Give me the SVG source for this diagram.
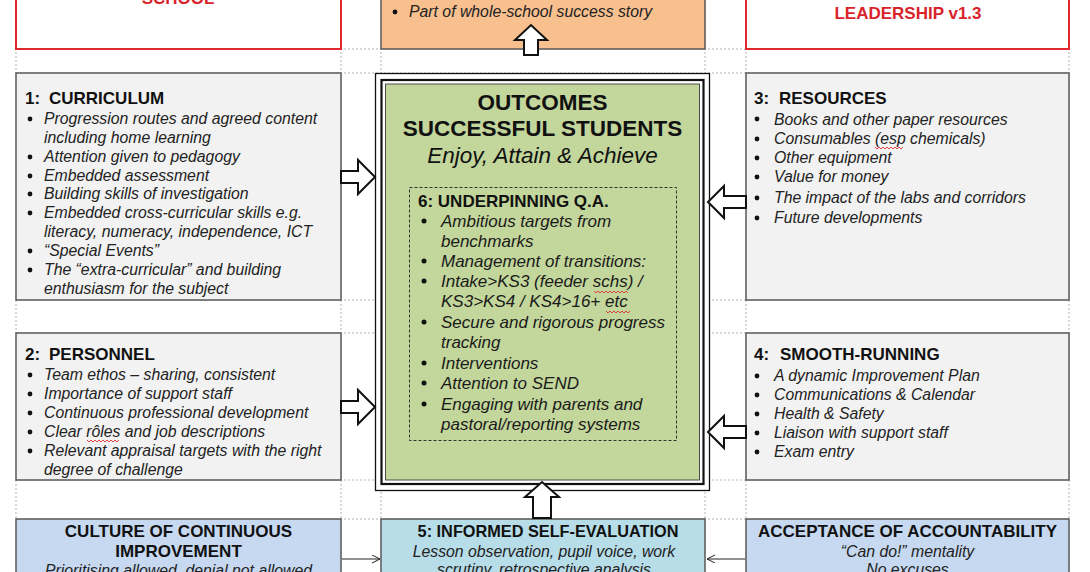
<svg xmlns="http://www.w3.org/2000/svg" width="1090" height="572" viewBox="0 0 1090 572">
<defs>
<style>
.grid{stroke:#b3b3b3;stroke-width:1;stroke-dasharray:2 2;fill:none}
.cell{fill:#f2f2f2;stroke:#595959;stroke-width:1.5}
.red{fill:#fff;stroke:#e0282e;stroke-width:2}
.rt{font-family:"Liberation Sans",Arial,sans-serif;font-weight:bold;font-size:17px;fill:#d9232a;text-anchor:middle}
.h{font-family:"Liberation Sans",Arial,sans-serif;font-weight:bold;font-size:17px;fill:#111}
.hc{font-family:"Liberation Sans",Arial,sans-serif;font-weight:bold;font-size:17px;fill:#111;text-anchor:middle}
.it{font-family:"Liberation Sans",Arial,sans-serif;font-style:italic;font-size:15.8px;fill:#222}
.itc{font-family:"Liberation Sans",Arial,sans-serif;font-style:italic;font-size:15.8px;fill:#222;text-anchor:middle}
.ic{font-family:"Liberation Sans",Arial,sans-serif;font-style:italic;font-size:17px;fill:#1a1a1a}
.big{font-family:"Liberation Sans",Arial,sans-serif;font-weight:bold;font-size:22.5px;fill:#111;text-anchor:middle}
.bigi{font-family:"Liberation Sans",Arial,sans-serif;font-style:italic;font-size:22.5px;fill:#111;text-anchor:middle}
.b{fill:#111}
.blk{fill:#fff;stroke:#111;stroke-width:2;stroke-linejoin:miter}
.thin{stroke:#222;stroke-width:1;fill:none}
.sq{stroke:#e03030;stroke-width:0.9;fill:none}
</style>
<marker id="open" markerWidth="10" markerHeight="10" refX="8" refY="4" orient="auto" markerUnits="userSpaceOnUse">
<path d="M0,0 L8,4 L0,8" fill="none" stroke="#222" stroke-width="1"/>
</marker>
</defs>
<rect width="1090" height="572" fill="#fff"/>
<g id="grid">
<path class="grid" d="M16,0V572M341,0V572M381,0V572M705,0V572M746,0V572M1069,0V572M16,49H1069M16,73H1069M16,300H1069M16,333H1069M16,480H1069M16,519H1069"/>
</g>
<g id="school">
<rect class="red" x="16" y="-10" width="325" height="59"/>
<text class="rt" x="178" y="4">SCHOOL</text>
</g>
<g id="success">
<rect x="381" y="-10" width="324" height="59" fill="#f9c08f" stroke="#595959" stroke-width="1.5"/>
<circle class="b" cx="395" cy="12" r="2.4"/>
<text class="it" x="409" y="17">Part of whole-school success story</text>
</g>
<g id="leadership">
<rect class="red" x="746" y="-10" width="323" height="59"/>
<text class="rt" x="908" y="19">LEADERSHIP v1.3</text>
</g>
<g id="curriculum">
<rect class="cell" x="16" y="73" width="325" height="227"/>
<text class="h" x="25" y="104">1:<tspan x="49">CURRICULUM</tspan></text>
<g class="b"><circle cx="30" cy="119" r="2.4"/><circle cx="30" cy="157" r="2.4"/><circle cx="30" cy="176" r="2.4"/><circle cx="30" cy="194" r="2.4"/><circle cx="30" cy="213" r="2.4"/><circle cx="30" cy="251" r="2.4"/><circle cx="30" cy="270" r="2.4"/></g>
<text class="it" x="44" y="124">Progression routes and agreed content</text>
<text class="it" x="44" y="143">including home learning</text>
<text class="it" x="44" y="162">Attention given to pedagogy</text>
<text class="it" x="44" y="181">Embedded assessment</text>
<text class="it" x="44" y="199">Building skills of investigation</text>
<text class="it" x="44" y="218">Embedded cross-curricular skills e.g.</text>
<text class="it" x="44" y="237">literacy, numeracy, independence, ICT</text>
<text class="it" x="44" y="256">“Special Events”</text>
<text class="it" x="44" y="275">The “extra-curricular” and building</text>
<text class="it" x="44" y="294">enthusiasm for the subject</text>
</g>
<g id="personnel">
<rect class="cell" x="16" y="333" width="325" height="147"/>
<text class="h" x="25" y="360">2:<tspan x="49">PERSONNEL</tspan></text>
<g class="b"><circle cx="30" cy="375" r="2.4"/><circle cx="30" cy="394" r="2.4"/><circle cx="30" cy="413" r="2.4"/><circle cx="30" cy="432" r="2.4"/><circle cx="30" cy="451" r="2.4"/></g>
<text class="it" x="44" y="380">Team ethos – sharing, consistent</text>
<text class="it" x="44" y="399">Importance of support staff</text>
<text class="it" x="44" y="418">Continuous professional development</text>
<text class="it" x="44" y="437">Clear rôles and job descriptions</text>
<text class="it" x="44" y="456">Relevant appraisal targets with the right</text>
<text class="it" x="44" y="475">degree of challenge</text>
<path class="sq" d="M87,440l2,2 2,-2 2,2 2,-2 2,2 2,-2 2,2 2,-2 2,2 2,-2 2,2 2,-2 2,2 2,-2 2,2 2,-2"/>
</g>
<g id="resources">
<rect class="cell" x="746" y="73" width="323" height="227"/>
<text class="h" x="754" y="104">3:<tspan x="779">RESOURCES</tspan></text>
<g class="b"><circle cx="757" cy="119" r="2.4"/><circle cx="757" cy="139" r="2.4"/><circle cx="757" cy="158" r="2.4"/><circle cx="757" cy="177" r="2.4"/><circle cx="757" cy="198" r="2.4"/><circle cx="757" cy="218" r="2.4"/></g>
<text class="it" x="774" y="125">Books and other paper resources</text>
<text class="it" x="774" y="144">Consumables (esp chemicals)</text>
<text class="it" x="774" y="163">Other equipment</text>
<text class="it" x="774" y="182">Value for money</text>
<text class="it" x="774" y="203">The impact of the labs and corridors</text>
<text class="it" x="774" y="223">Future developments</text>
<path class="sq" d="M875,147l2,2 2,-2 2,2 2,-2 2,2 2,-2 2,2 2,-2 2,2 2,-2 2,2 2,-2 2,2 2,-2"/>
</g>
<g id="smooth">
<rect class="cell" x="746" y="333" width="323" height="147"/>
<text class="h" x="754" y="360">4:<tspan x="780">SMOOTH-RUNNING</tspan></text>
<g class="b"><circle cx="757" cy="376" r="2.4"/><circle cx="757" cy="395" r="2.4"/><circle cx="757" cy="414" r="2.4"/><circle cx="757" cy="433" r="2.4"/><circle cx="757" cy="452" r="2.4"/></g>
<text class="it" x="774" y="381">A dynamic Improvement Plan</text>
<text class="it" x="774" y="400">Communications &amp; Calendar</text>
<text class="it" x="774" y="419">Health &amp; Safety</text>
<text class="it" x="774" y="438">Liaison with support staff</text>
<text class="it" x="774" y="457">Exam entry</text>
</g>
<g id="outcomes">
<rect x="375.5" y="73.5" width="334" height="417" fill="#fff" stroke="#111" stroke-width="1.3"/>
<rect x="381.5" y="80" width="322" height="404" fill="#fff" stroke="#111" stroke-width="2.2"/>
<rect x="385.5" y="84" width="314" height="396" fill="#c3d69b" stroke="#4d4d4d" stroke-width="1"/>
<text class="big" x="542.5" y="110">OUTCOMES</text>
<text class="big" x="542.5" y="136">SUCCESSFUL STUDENTS</text>
<text class="bigi" x="542.5" y="163">Enjoy, Attain &amp; Achieve</text>
</g>
<g id="qa">
<rect x="409.5" y="187.5" width="267" height="253" fill="none" stroke="#333" stroke-width="1" stroke-dasharray="3 2"/>
<text class="h" x="418" y="207">6: UNDERPINNING Q.A.</text>
<g class="b"><circle cx="424" cy="221" r="2.5"/><circle cx="424" cy="261" r="2.5"/><circle cx="424" cy="281" r="2.5"/><circle cx="424" cy="322" r="2.5"/><circle cx="424" cy="363" r="2.5"/><circle cx="424" cy="383" r="2.5"/><circle cx="424" cy="404" r="2.5"/></g>
<text class="ic" x="441" y="227">Ambitious targets from</text>
<text class="ic" x="441" y="247">benchmarks</text>
<text class="ic" x="441" y="267">Management of transitions:</text>
<text class="ic" x="441" y="287">Intake&gt;KS3 (feeder schs) /</text>
<text class="ic" x="441" y="307">KS3&gt;KS4 / KS4&gt;16+ etc</text>
<text class="ic" x="441" y="328">Secure and rigorous progress</text>
<text class="ic" x="441" y="348">tracking</text>
<text class="ic" x="441" y="369">Interventions</text>
<text class="ic" x="441" y="389">Attention to SEND</text>
<text class="ic" x="441" y="410">Engaging with parents and</text>
<text class="ic" x="441" y="430">pastoral/reporting systems</text>
<path class="sq" d="M594,291l2,2 2,-2 2,2 2,-2 2,2 2,-2 2,2 2,-2 2,2 2,-2 2,2 2,-2 2,2 2,-2 2,2 2,-2 2,2"/>
<path class="sq" d="M606,311l2,2 2,-2 2,2 2,-2 2,2 2,-2 2,2 2,-2 2,2 2,-2 2,2 2,-2"/>
</g>
<g id="culture">
<rect x="16" y="519" width="325" height="65" fill="#c6d9f1" stroke="#595959" stroke-width="1.5"/>
<text class="hc" x="178.5" y="537">CULTURE OF CONTINUOUS</text>
<text class="hc" x="178.5" y="557">IMPROVEMENT</text>
<text class="itc" x="178.5" y="576">Prioritising allowed, denial not allowed</text>
</g>
<g id="selfeval">
<rect x="381" y="519" width="324" height="65" fill="#b7dde8" stroke="#595959" stroke-width="1.5"/>
<text class="hc" x="548" y="537" style="font-size:16.3px">5: INFORMED SELF-EVALUATION</text>
<text class="itc" x="544" y="557">Lesson observation, pupil voice, work</text>
<text class="itc" x="544" y="575">scrutiny, retrospective analysis</text>
</g>
<g id="accountability">
<rect x="746" y="519" width="323" height="65" fill="#c6d9f1" stroke="#595959" stroke-width="1.5"/>
<text class="hc" x="907.5" y="537">ACCEPTANCE OF ACCOUNTABILITY</text>
<text class="itc" x="907.5" y="557">“Can do!” mentality</text>
<text class="itc" x="907.5" y="575">No excuses</text>
</g>
<g id="connectors">
<polygon class="blk" points="524,55 524,40 515,40 531,25 547,40 538,40 538,55"/>
<polygon class="blk" points="341,171 358,171 358,160 375,177 358,194 358,183 341,183"/>
<polygon class="blk" points="341,401 358,401 358,390 375,407 358,424 358,413 341,413"/>
<polygon class="blk" points="746,196 724,196 724,186 708,202 724,218 724,208 746,208"/>
<polygon class="blk" points="746,426 724,426 724,416 708,432 724,448 724,438 746,438"/>
<polygon class="blk" points="533,518 533,497 525,497 542,482 559,497 551,497 551,518"/>
<line class="thin" x1="342" y1="559" x2="380" y2="559" marker-end="url(#open)"/>
<line class="thin" x1="745" y1="559" x2="707" y2="559" marker-end="url(#open)"/>
</g>
</svg>
